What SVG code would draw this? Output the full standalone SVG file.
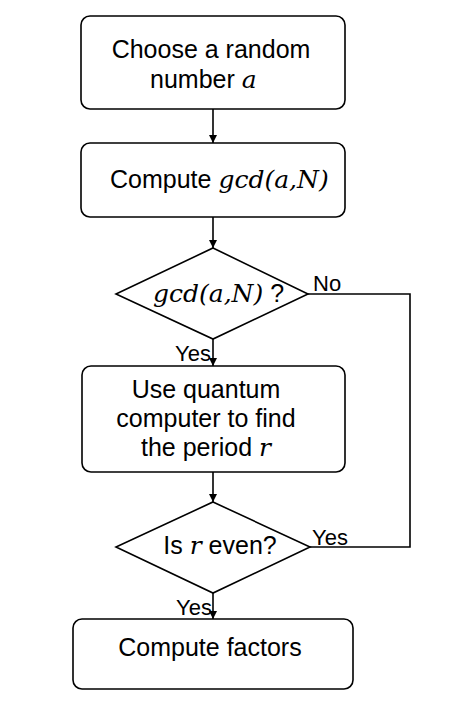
<svg xmlns="http://www.w3.org/2000/svg" width="474" height="711" viewBox="0 0 474 711">
<defs>
<style>
.box{fill:#fff;stroke:#000;stroke-width:1.6}
.t{font-family:"Liberation Sans",Arial,sans-serif;font-size:25px;fill:#000}
.m{font-family:"DejaVu Serif",serif;font-style:italic;font-size:25px}
.lbl{font-family:"Liberation Sans",Arial,sans-serif;font-size:22px;fill:#000}
.c{fill:none;stroke:#000;stroke-width:1.6}
</style>
<marker id="ah" viewBox="0 0 10 10" refX="10" refY="5" markerWidth="8" markerHeight="8" markerUnits="userSpaceOnUse" orient="auto">
<path d="M0,0 L10,5 L0,10 z" fill="#000"/>
</marker>
</defs>
<rect width="474" height="711" fill="#fff"/>
<g id="connectors">
<line class="c" x1="213" y1="109" x2="213" y2="143" marker-end="url(#ah)"/>
<line class="c" x1="213" y1="217" x2="213" y2="248" marker-end="url(#ah)"/>
<line class="c" x1="213" y1="339" x2="213" y2="366" marker-end="url(#ah)"/>
<line class="c" x1="213" y1="472" x2="213" y2="502" marker-end="url(#ah)"/>
<line class="c" x1="213" y1="593" x2="213" y2="619" marker-end="url(#ah)"/>
<polyline class="c" points="308,294 410,294 410,547 310,547"/>
<text class="lbl" x="313" y="291">No</text>
<text class="lbl" x="175" y="361">Yes</text>
<text class="lbl" x="312" y="545">Yes</text>
<text class="lbl" x="176" y="615">Yes</text>
</g>
<g id="n1">
<rect class="box" x="81" y="16" width="264" height="93" rx="9"/>
<text class="t" x="211" y="58" text-anchor="middle">Choose a random</text>
<text class="t" x="150" y="88">number <tspan class="m">a</tspan></text>
</g>
<g id="n2">
<rect class="box" x="81" y="143" width="264" height="74" rx="9"/>
<text class="t" x="110" y="188">Compute <tspan class="m">gcd(a,N)</tspan></text>
</g>
<g id="n3">
<polygon class="box" points="213,248 308,294 213,339 116,294"/>
<text class="t" x="153" y="302"><tspan class="m">gcd(a,N)</tspan> ?</text>
</g>
<g id="n4">
<rect class="box" x="82" y="366" width="263" height="106" rx="9"/>
<text class="t" x="206" y="398" text-anchor="middle">Use quantum</text>
<text class="t" x="206" y="427" text-anchor="middle">computer to find</text>
<text class="t" x="206" y="456" text-anchor="middle">the period <tspan class="m">r</tspan></text>
</g>
<g id="n5">
<polygon class="box" points="213,502 310,547 213,593 116,547"/>
<text class="t" x="220" y="554" text-anchor="middle">Is <tspan class="m">r</tspan> even?</text>
</g>
<g id="n6">
<rect class="box" x="73" y="619" width="280" height="70" rx="9"/>
<text class="t" x="210" y="656" text-anchor="middle">Compute factors</text>
</g>
</svg>
